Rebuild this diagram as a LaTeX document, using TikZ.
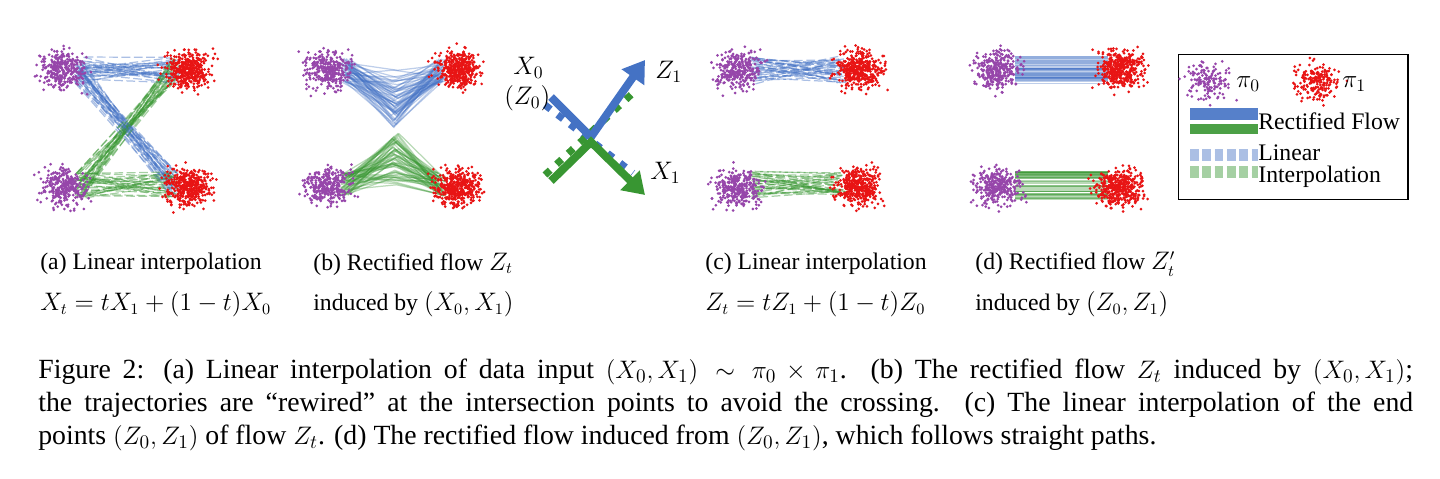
\documentclass[tikz,border=0pt]{standalone}
\usepackage{fontspec}
\setmainfont{Liberation Serif}
\usetikzlibrary{arrows.meta}
\definecolor{cB}{RGB}{68,114,196}
\definecolor{cG}{RGB}{56,150,50}
\definecolor{cP}{RGB}{150,70,170}
\definecolor{cR}{RGB}{232,20,20}
\newcommand{\mycloud}[4]{% x y color n
  \foreach \k in {1,...,#4}{
    \fill[#3] ({#1+11*(rand+rand+rand)},{#2+9*(rand+rand+rand)}) circle[radius=0.03cm];}}
\begin{document}
\begin{tikzpicture}[x=0.02cm,y=-0.02cm,
  lin/.style={line width=0.7pt,dash pattern=on 5pt off 2pt,opacity=0.45},
  rf/.style={line width=0.7pt,opacity=0.35},
  lbl/.style={inner sep=0pt,anchor=west,font=\fontsize{13.5}{16}\selectfont},
  figcap/.style={inner sep=0pt,anchor=west,font=\fontsize{15.8}{18}\selectfont}]
\pgfmathsetseed{7}
\useasboundingbox (0,0) rectangle (1440,479);
% (a)
\foreach \i in {1,...,30}{
 \draw[lin,cB] ({80+6*rand},{70+13*rand}) -- ({175+6*rand},{70+13*rand});
 \draw[lin,cB] ({80+6*rand},{70+13*rand}) -- ({175+6*rand},{185+13*rand});
 \draw[lin,cG] ({80+6*rand},{185+13*rand}) -- ({175+6*rand},{70+13*rand});
 \draw[lin,cG] ({80+6*rand},{185+13*rand}) -- ({175+6*rand},{185+13*rand});}
% (b)
\foreach \i in {1,...,55}{
 \pgfmathsetmacro{\t}{rnd}
 \draw[rf,cB] ({345+5*rand},{70+12*rand}) -- ({395+4*rand},{70+58*\t}) -- ({442+5*rand},{70+12*rand});
 \pgfmathsetmacro{\t}{rnd}
 \draw[rf,cG] ({345+5*rand},{185+12*rand}) -- ({395+4*rand},{185-52*\t}) -- ({442+5*rand},{185+12*rand});}
% (c)
\foreach \i in {1,...,35}{
 \draw[lin,cB] ({755+5*rand},{70+14*rand}) -- ({842+5*rand},{70+14*rand});
 \draw[lin,cG] ({755+5*rand},{185+14*rand}) -- ({842+5*rand},{185+14*rand});}
% (d)
\foreach \i in {1,...,50}{
 \pgfmathsetmacro{\o}{14*rand}
 \draw[rf,cB] (1015,{70+\o}) -- (1108,{70+\o});
 \pgfmathsetmacro{\o}{14*rand}
 \draw[rf,cG] (1015,{185+\o}) -- (1108,{185+\o});}
% clouds
\foreach \cx/\cy in {63/70,63/187,328/70,328/187,738/70,738/187,998/70,998/187}{\mycloud{\cx}{\cy}{cP}{320}}
\foreach \cx/\cy in {188/70,188/187,458/70,458/187,858/70,858/187,1120/70,1120/187}{\mycloud{\cx}{\cy}{cR}{420}}
% middle arrows
\coordinate (b0) at (551,97); \coordinate (bm) at (591,137); \coordinate (b1) at (645,60);
\coordinate (g0) at (551,181); \coordinate (gm) at (591,142); \coordinate (g1) at (645,195);
\coordinate (bd0) at (545,105); \coordinate (bd1) at (633,173);
\coordinate (gd0) at (545,175); \coordinate (gd1) at (633,93);
\draw[cB,line width=4pt,dash pattern=on 4pt off 5pt] (bd0) -- (bd1);
\draw[cG,line width=4pt,dash pattern=on 4pt off 5pt] (gd0) -- (gd1);
\draw[cB,line width=4.5pt,-{Triangle[length=12pt,width=15pt]}] (b0) -- (bm) -- (b1);
\draw[cG,line width=4.5pt,-{Triangle[length=12pt,width=15pt]}] (g0) -- (gm) -- (g1);
\node[lbl,font=\Large] (x0) at (513,68) {$X_0$};
\node[lbl,font=\Large] (z0) at (504,98) {$(Z_0)$};
\node[lbl,font=\Large] (z1) at (655,72) {$Z_1$};
\node[lbl,font=\Large] (x1) at (650,173) {$X_1$};
% legend
\node[draw,line width=0.6pt,minimum width=4.6cm,minimum height=2.9cm,inner sep=0pt] (lg) at (1293,127) {};
\mycloud{1208}{82}{cP}{150}
\mycloud{1318}{82}{cR}{200}
\node[lbl,font=\Large] (p0) at (1236,84) {$\pi_0$};
\node[lbl,font=\Large] (p1) at (1342,84) {$\pi_1$};
\fill[cB,opacity=0.9] (1190,108) rectangle (1258,120);
\fill[cG,opacity=0.9] (1190,124) rectangle (1258,134);
\foreach \i in {1,...,10}{
 \draw[lin,cB] (1190,{148+1.2*\i}) -- (1258,{148+1.2*\i});
 \draw[lin,cG] (1190,{165+1.2*\i}) -- (1258,{165+1.2*\i});}
\node[lbl] (t1) at (1258,121) {Rectified Flow};
\node[lbl] (t2) at (1258,153) {Linear};
\node[lbl] (t3) at (1258,177) {Interpolation};
% subcaptions
\node[lbl] (ca1) at (40,264) {(a) Linear interpolation};
\node[lbl] (ca2) at (40,304) {$X_t=tX_1+(1-t)X_0$};
\node[lbl] (cb1) at (313,264) {(b) Rectified flow $Z_t$};
\node[lbl] (cb2) at (313,304) {induced by $(X_0,X_1)$};
\node[lbl] (cc1) at (705,264) {(c) Linear interpolation};
\node[lbl] (cc2) at (705,304) {$Z_t=tZ_1+(1-t)Z_0$};
\node[lbl] (cd1) at (975,264) {(d) Rectified flow $Z'_t$};
\node[lbl] (cd2) at (975,304) {induced by $(Z_0,Z_1)$};
% caption
\node[figcap] (L1) at (38,372) {\makebox[27.5cm][s]{Figure 2: (a) Linear interpolation of data input $(X_0,X_1)\sim\pi_0\times\pi_1$. (b) The rectified flow $Z_t$ induced by $(X_0,X_1)$;}};
\node[figcap] (L2) at (38,405) {\makebox[27.5cm][s]{the trajectories are ``rewired'' at the intersection points to avoid the crossing. (c) The linear interpolation of the end}};
\node[figcap] (L3) at (38,438) {points $(Z_0,Z_1)$ of flow $Z_t$. (d) The rectified flow induced from $(Z_0,Z_1)$, which follows straight paths.};
\end{tikzpicture}
\end{document}
